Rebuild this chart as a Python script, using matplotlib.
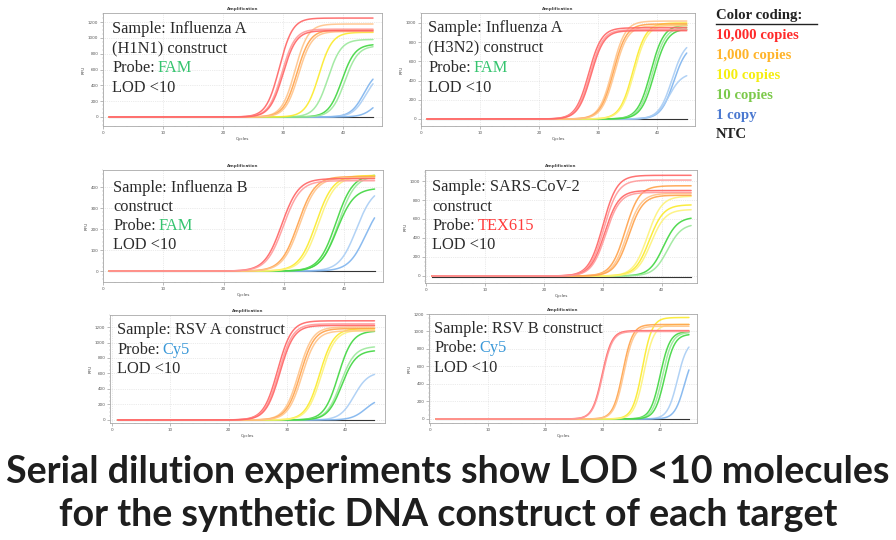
import numpy as np
import matplotlib
matplotlib.use("Agg")
import matplotlib.pyplot as plt
from matplotlib.lines import Line2D

# ---------------- data ----------------
# curve = (midpoint cycle, plateau RFU, dilution level 0..4)
LEVEL_COLORS = ["#ff6464", "#ffa24a", "#fbea2a", "#3fd63f", "#7fb4ee"]
LEVEL_LIGHT = ["#ff9a9a", "#ffc48a", "#fdf27a", "#9be89b", "#a9cdf4"]

H1N1_MID = [29.4, 29.8, 30.0, 32.0, 32.3, 32.6, 36.0, 37.5, 39.8, 40.3, 43.5, 43.8, 45.5]
H1N1_TOP = [1250, 1110, 1090, 1175, 1100, 1080, 1070, 980, 920, 900, 600, 560, 300]
H1N1_LVL = [0, 0, 0, 1, 1, 1, 2, 3, 3, 3, 4, 4, 4]
H1N1_SLOPE = 1.1

H3N2_MID = [28.4, 28.6, 28.8, 32.4, 32.6, 32.8, 35.9, 36.1, 38.9, 39.2, 39.5, 42.5, 42.8, 42.0]
H3N2_TOP = [950, 930, 920, 1020, 990, 970, 1000, 980, 980, 960, 940, 820, 780, 480]
H3N2_LVL = [0, 0, 0, 1, 1, 1, 2, 2, 3, 3, 3, 4, 4, 4]
H3N2_SLOPE = 1.1

FLUB_MID = [29.6, 29.9, 32.3, 32.6, 35.3, 35.7, 38.6, 39.0, 38.8, 42.0, 43.5]
FLUB_TOP = [440, 430, 450, 445, 455, 450, 460, 455, 395, 400, 340]
FLUB_LVL = [0, 0, 1, 1, 2, 2, 3, 3, 3, 4, 4]
FLUB_SLOPE = 1.4

SARS_MID = [30.0, 30.2, 30.3, 30.5, 33.8, 34.1, 34.4, 37.6, 37.9, 38.2, 40.3, 41.0]
SARS_TOP = [1060, 1010, 900, 880, 950, 870, 850, 840, 750, 700, 620, 550]
SARS_LVL = [0, 0, 0, 0, 1, 1, 1, 2, 2, 2, 3, 3]
SARS_SLOPE = 1.2

RSVA_MID = [28.4, 28.6, 28.8, 32.0, 32.3, 32.6, 35.6, 35.9, 38.8, 39.2, 39.4, 41.5, 43.5]
RSVA_TOP = [1280, 1240, 1220, 1200, 1180, 1150, 1180, 1160, 1150, 950, 900, 620, 290]
RSVA_LVL = [0, 0, 0, 1, 1, 1, 2, 2, 3, 3, 3, 4, 4]
RSVA_SLOPE = 1.2

RSVB_MID = [29.9, 30.0, 33.5, 33.7, 36.9, 37.2, 40.0, 40.4, 40.8, 43.0, 44.2]
RSVB_TOP = [1010, 1000, 1080, 1060, 1160, 1080, 1000, 990, 970, 900, 780]
RSVB_LVL = [0, 0, 1, 1, 2, 2, 3, 3, 3, 4, 4]
RSVB_SLOPE = 0.85

NTC_LEVEL = [0, 0, 0, -10, 0, 0]

PANEL_LINES = [
    ["Sample: Influenza A", "(H1N1) construct", "Probe:", "LOD <10"],
    ["Sample: Influenza A", "(H3N2) construct", "Probe:", "LOD <10"],
    ["Sample: Influenza B", "construct", "Probe:", "LOD <10"],
    ["Sample: SARS-CoV-2", "construct", "Probe:", "LOD <10"],
    ["Sample: RSV A construct", "Probe:", "LOD <10"],
    ["Sample: RSV B construct", "Probe:", "LOD <10"],
]
PROBES = ["FAM", "FAM", "FAM", "TEX615", "Cy5", "Cy5"]
PROBE_COLORS = ["#35c46f", "#35c46f", "#35c46f", "#ff3b3b", "#3a98d8", "#3a98d8"]

Y_TICKS = [
    [0, 200, 400, 600, 800, 1000, 1200],
    [0, 200, 400, 600, 800, 1000],
    [0, 100, 200, 300, 400],
    [0, 200, 400, 600, 800, 1000],
    [0, 200, 400, 600, 800, 1000, 1200],
    [0, 200, 400, 600, 800, 1000, 1200],
]
X_TICKS = [0, 10, 20, 30, 40]

LEGEND_LABELS = ["10,000 copies", "1,000 copies", "100 copies", "10 copies", "1 copy", "NTC"]
LEGEND_COLORS = ["#ff2a2a", "#ffb42a", "#f5ee10", "#7cc94a", "#4a78d0", "#222222"]

TITLE_1 = "Serial dilution experiments show LOD <10 molecules"
TITLE_2 = "for the synthetic DNA construct of each target"

# ---------------- layout ----------------
W, H = 896, 540
fig = plt.figure(figsize=(W / 100, H / 100), dpi=100)
fig.patch.set_facecolor("white")


def box(x0, y0, x1, y1):
    return [x0 / W, 1 - y1 / H, (x1 - x0) / W, (y1 - y0) / H]


def fxy(x, y):
    return (x / W, 1 - y / H)


PANELS = [
    dict(box=(103, 13, 382, 126), xlim=(0, 46.5), ylim=(-114, 1314),
         data=(H1N1_MID, H1N1_TOP, H1N1_LVL, H1N1_SLOPE), tx=112, ty=[29, 49, 68, 88]),
    dict(box=(421, 13, 695, 126), xlim=(0, 46.4), ylim=(-73, 1104),
         data=(H3N2_MID, H3N2_TOP, H3N2_LVL, H3N2_SLOPE), tx=428, ty=[28, 48, 68, 88]),
    dict(box=(103, 170, 383, 282), xlim=(0, 46.4), ylim=(-52, 481),
         data=(FLUB_MID, FLUB_TOP, FLUB_LVL, FLUB_SLOPE), tx=113, ty=[188, 207, 226, 245]),
    dict(box=(425, 170, 697, 283), xlim=(-0.2, 46.0), ylim=(-74, 1116),
         data=(SARS_MID, SARS_TOP, SARS_LVL, SARS_SLOPE), tx=432, ty=[187, 207, 226, 245]),
    dict(box=(110, 315, 385, 423), xlim=(-0.3, 46.8), ylim=(-39, 1355),
         data=(RSVA_MID, RSVA_TOP, RSVA_LVL, RSVA_SLOPE), tx=117, ty=[330, 350, 369]),
    dict(box=(429, 314, 697, 423), xlim=(-0.2, 46.4), ylim=(-46, 1200),
         data=(RSVB_MID, RSVB_TOP, RSVB_LVL, RSVB_SLOPE), tx=434, ty=[329, 348, 368]),
]

cycles = np.linspace(1, 45, 300)
TXT = "#2b2b2b"
PFS = 11.8

for i, p in enumerate(PANELS):
    ax = fig.add_axes(box(*p["box"]))
    ax.set_xlim(*p["xlim"])
    ax.set_ylim(*p["ylim"])
    ax.set_xticks(X_TICKS)
    ax.set_yticks(Y_TICKS[i])
    ax.minorticks_on()
    ax.tick_params(which="major", labelsize=3, length=2, width=0.4, colors="#888888",
                   labelcolor="#555555", pad=1.5)
    ax.tick_params(which="minor", length=1, width=0.3, colors="#aaaaaa")
    ax.grid(True, which="major", color="#d8d8d8", linestyle=":", linewidth=0.5)
    for s in ax.spines.values():
        s.set_color("#a8a8a8")
        s.set_linewidth(0.6)
    ax.set_title("Amplification", fontsize=3, pad=2, color="#444444", fontweight="bold")
    ax.set_xlabel("Cycles", fontsize=3, labelpad=1.5, color="#444444")
    ax.set_ylabel("RFU", fontsize=3, labelpad=1.5, color="#444444")

    mids, tops, lvls, slope = p["data"]
    ax.plot(cycles, np.full_like(cycles, NTC_LEVEL[i]), color="#333333", lw=0.8, zorder=2)
    order = sorted(range(len(mids)), key=lambda k: -lvls[k])
    for k in order:
        y = tops[k] / (1 + np.exp(-(cycles - mids[k]) / slope))
        col = LEVEL_COLORS[lvls[k]] if k % 2 == 0 else LEVEL_LIGHT[lvls[k]]
        ax.plot(cycles, y, color=col, lw=1.1, alpha=0.9, zorder=3, solid_capstyle="round")

    for j, line in enumerate(PANEL_LINES[i]):
        t = fig.text(*fxy(p["tx"], p["ty"][j]), line, fontsize=PFS, family="Liberation Serif",
                     color=TXT, va="center", ha="left", zorder=10)
        if line == "Probe:":
            ax.annotate(PROBES[i], xy=(1, 0), xycoords=t, xytext=(2.2, 0),
                        textcoords="offset points", fontsize=PFS, family="Liberation Serif",
                        color=PROBE_COLORS[i], va="bottom", ha="left")

# legend block on the right
lx = 716
fig.text(*fxy(lx, 15), "Color coding:", fontsize=10.6, family="Liberation Serif",
         fontweight="bold", color="#222222", va="center", ha="left")
fig.add_artist(Line2D([lx / W, 817 / W], [1 - 24 / H, 1 - 24 / H], color="#222222", lw=1.0))
for j, (lab, col) in enumerate(zip(LEGEND_LABELS, LEGEND_COLORS)):
    fig.text(*fxy(lx, 36 + j * 19.8), lab, fontsize=10.6, family="Liberation Serif",
             fontweight="bold", color=col, va="center", ha="left")

# bottom caption
fig.text(*fxy(448, 472), TITLE_1, fontsize=27.1, family="Lato", fontweight="bold",
         color="#1e1e1e", ha="center", va="center")
fig.text(*fxy(448, 515), TITLE_2, fontsize=27.1, family="Lato", fontweight="bold",
         color="#1e1e1e", ha="center", va="center")

fig.savefig("out.png", dpi=100, facecolor="white")
